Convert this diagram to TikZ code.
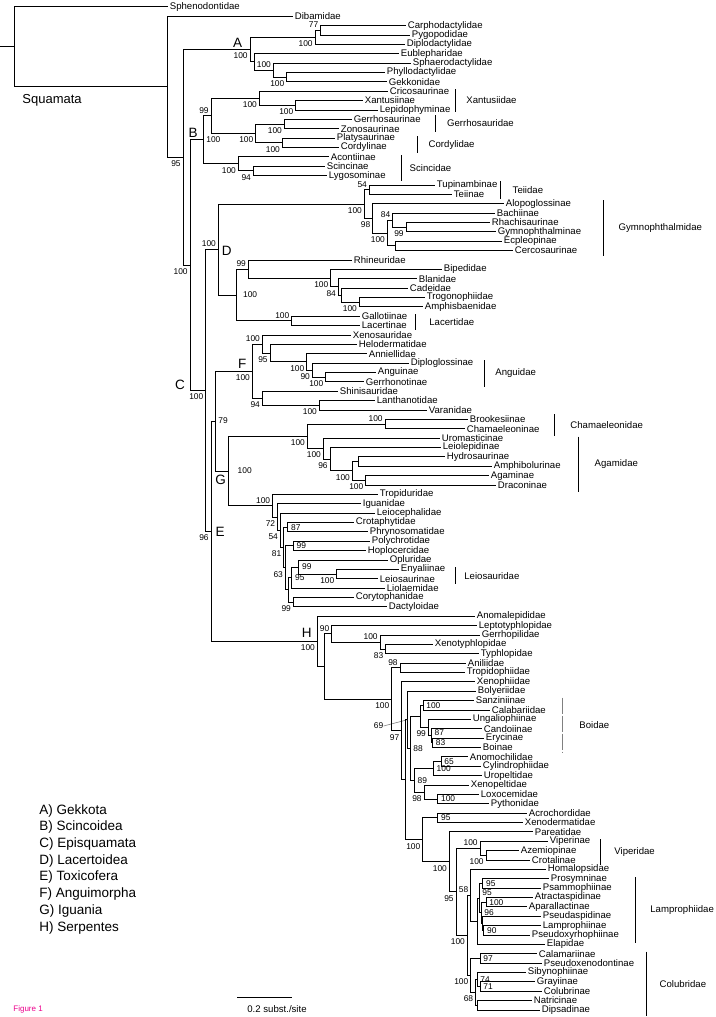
\documentclass[tikz,border=0pt]{standalone}
\usepackage{fontspec}
\setmainfont{Liberation Sans}
\usetikzlibrary{calc}
\tikzset{
  leaf/.style={anchor=west, inner sep=0pt, xshift=1.5pt, font=\fontsize{9.6}{10}\selectfont},
  famlab/.style={anchor=west, inner sep=0pt, font=\fontsize{9.6}{10}\selectfont},
  bsbl/.style={anchor=north east, inner sep=0pt, xshift=-2pt, yshift=-3pt, font=\fontsize{8.4}{9}\selectfont},
  bsal/.style={anchor=south east, inner sep=0pt, xshift=-2pt, yshift=2pt, font=\fontsize{8.4}{9}\selectfont},
  bsr/.style={anchor=west, inner sep=0pt, xshift=3pt, font=\fontsize{8.4}{9}\selectfont},
  bsfree/.style={inner sep=0pt, font=\fontsize{8.4}{9}\selectfont},
  cladelab/.style={inner sep=0pt, font=\fontsize{13.5}{14}\selectfont},
}
\newcommand{\clade}[4]{%
  \coordinate (#1-m) at ($(#3)!.5!(#4)$);
  \coordinate (#1) at (#2,0 |- #1-m);
  \draw (#1) |- (#3);
  \draw (#1) |- (#4);}
\newcommand{\bs}[3]{\node[#1] (#2-bs) at (#2) {#3};}
\newcommand{\famline}[5]{%
  \coordinate (#5-t) at (#1,#2);
  \coordinate (#5-b) at (#1,#3);
  \draw (#5-t) -- (#5-b);
  \node[famlab] (#5) at (#4,{(#2+#3)/2}) {#5};}

\begin{document}
\begin{tikzpicture}[x=1pt, y=-1pt, line width=0.8pt]
\useasboundingbox (0,0) rectangle (715,1017);

\foreach \nm/\xe [count=\i] in {Sphenodontidae/168, Dibamidae/293, Carphodactylidae/406, Pygopodidae/410,
  Diplodactylidae/405, Eublepharidae/399, Sphaerodactylidae/411, Phyllodactylidae/385, Gekkonidae/387,
  Cricosaurinae/388, Xantusiinae/363, Lepidophyminae/378, Gerrhosaurinae/352, Zonosaurinae/339,
  Platysaurinae/335, Cordylinae/339, Acontiinae/329, Scincinae/325, Lygosominae/327,
  Tupinambinae/435, Teiinae/452, Alopoglossinae/504, Bachiinae/495, Rhachisaurinae/490,
  Gymnophthalminae/496, Ecpleopinae/502, Cercosaurinae/513, Rhineuridae/352, Bipedidae/442,
  Blanidae/417, Cadeidae/408, Trogonophiidae/425, Amphisbaenidae/423, Gallotiinae/360, Lacertinae/360,
  Xenosauridae/351, Helodermatidae/357, Anniellidae/367, Diploglossinae/409, Anguinae/376,
  Gerrhonotinae/364, Shinisauridae/338, Lanthanotidae/375, Varanidae/427, Brookesiinae/468,
  Chamaeleoninae/465, Uromasticinae/440, Leiolepidinae/441, Hydrosaurinae/445, Amphibolurinae/492,
  Agaminae/489, Draconinae/496, Tropiduridae/378, Iguanidae/361, Leiocephalidae/375,
  Crotaphytidae/354, Phrynosomatidae/368, Polychrotidae/370, Hoplocercidae/366, Opluridae/388,
  Enyaliinae/399, Leiosaurinae/378, Liolaemidae/385, Corytophanidae/354, Dactyloidae/387,
  Anomalepididae/475, Leptotyphlopidae/477, Gerrhopilidae/480, Xenotyphlopidae/433, Typhlopidae/479,
  Aniliidae/466, Tropidophiidae/465, Xenophiidae/475, Bolyeriidae/476, Sanziniinae/474,
  Calabariidae/490, Ungaliophiinae/471, Candoiinae/482, Erycinae/484, Boinae/481,
  Anomochilidae/468, Cylindrophiidae/481, Uropeltidae/482, Xenopeltidae/469, Loxocemidae/479,
  Pythonidae/489, Acrochordidae/527, Xenodermatidae/523, Pareatidae/533, Viperinae/548,
  Azemiopinae/519, Crotalinae/530, Homalopsidae/546, Prosymninae/549, Psammophiinae/541,
  Atractaspidinae/533, Aparallactinae/527, Pseudaspidinae/541, Lamprophiinae/541,
  Pseudoxyrhophiinae/530, Elapidae/545, Calamariinae/537, Pseudoxenodontinae/542,
  Sibynophiinae/526, Grayiinae/535, Colubrinae/542, Natricinae/532, Dipsadinae/540}{
  \coordinate (\nm) at (\xe,{6.8+(\i-1)*9.375});
  \node[leaf] (\nm-l) at (\nm) {\nm};
}

\clade{nCarPyg}{320.7}{Carphodactylidae}{Pygopodidae}
\clade{nPygopodoidea}{315}{nCarPyg}{Diplodactylidae}
\clade{nPhyGek}{286.7}{Phyllodactylidae}{Gekkonidae}
\clade{nGekkonoidea}{273.3}{Sphaerodactylidae}{nPhyGek}
\clade{nEubGek}{254.3}{Eublepharidae}{nGekkonoidea}
\clade{Gekkota}{250}{nPygopodoidea}{nEubGek}
\bs{bsal}{nCarPyg}{77}
\bs{bsbl}{nPygopodoidea}{100}
\bs{bsbl}{nPhyGek}{100}
\bs{bsal}{nGekkonoidea}{100}
\bs{bsbl}{Gekkota}{100}

\clade{nXanLep}{295.7}{Xantusiinae}{Lepidophyminae}
\clade{nXantusiidae}{259.3}{Cricosaurinae}{nXanLep}
\clade{nGerrho}{284.3}{Gerrhosaurinae}{Zonosaurinae}
\clade{nCordyl}{282.3}{Platysaurinae}{Cordylinae}
\clade{nCordyliformes}{255.7}{nGerrho}{nCordyl}
\clade{nB99}{211}{nXantusiidae}{nCordyliformes}
\clade{nScnLyg}{253.3}{Scincinae}{Lygosominae}
\clade{nScincidae}{238.3}{Acontiinae}{nScnLyg}
\clade{Scincoidea}{203}{nB99}{nScincidae}
\bs{bsbl}{nXanLep}{100}
\bs{bsbl}{nXantusiidae}{100}
\bs{bsbl}{nGerrho}{100}
\bs{bsbl}{nCordyl}{100}
\bs{bsbl}{nCordyliformes}{100}
\bs{bsal}{nB99}{99}
\bs{bsbl}{nScnLyg}{94}
\bs{bsbl}{nScincidae}{100}
\bs{bsr}{Scincoidea}{100}

\clade{nTeiidae}{369.3}{Tupinambinae}{Teiinae}
\clade{nRhaGym}{406}{Rhachisaurinae}{Gymnophthalminae}
\clade{nBacRG}{392.7}{Bachiinae}{nRhaGym}
\clade{nEcpCer}{395}{Ecpleopinae}{Cercosaurinae}
\clade{nCerco}{387.3}{nBacRG}{nEcpCer}
\clade{nGymno}{372.7}{Alopoglossinae}{nCerco}
\clade{nTeiioidea}{364.3}{nTeiidae}{nGymno}
\bs{bsal}{nTeiidae}{54}
\bs{bsbl}{nRhaGym}{99}
\bs{bsal}{nBacRG}{84}
\bs{bsbl}{nCerco}{100}
\bs{bsbl}{nGymno}{98}
\bs{bsbl}{nTeiioidea}{100}

\clade{nTroAmp}{359.3}{Trogonophiidae}{Amphisbaenidae}
\clade{nCadTA}{341}{Cadeidae}{nTroAmp}
\clade{nBlaCT}{338.3}{Blanidae}{nCadTA}
\clade{nAmphisb}{330.7}{Bipedidae}{nBlaCT}
\clade{nRhiAmp}{248.3}{Rhineuridae}{nAmphisb}
\clade{nLacertidae}{291.7}{Gallotiinae}{Lacertinae}
\clade{nLacertibaenia}{236.7}{nRhiAmp}{nLacertidae}
\clade{Lacertoidea}{218.3}{nTeiioidea}{nLacertibaenia}
\bs{bsbl}{nTroAmp}{100}
\bs{bsbl}{nBlaCT}{84}
\bs{bsbl}{nAmphisb}{100}
\bs{bsal}{nRhiAmp}{99}
\bs{bsal}{nLacertidae}{100}
\node[bsr, xshift=3pt] (nLacertibaenia-bs) at (nLacertibaenia) {100};
\bs{bsal}{Lacertoidea}{100}

\clade{nAnguGer}{325.7}{Anguinae}{Gerrhonotinae}
\clade{nAnguidae}{312.3}{Diploglossinae}{nAnguGer}
\clade{nAnnAng}{306.7}{Anniellidae}{nAnguidae}
\clade{nHelAA}{270}{Helodermatidae}{nAnnAng}
\clade{nXenHel}{262.3}{Xenosauridae}{nHelAA}
\clade{nVaranoidea}{319.3}{Lanthanotidae}{Varanidae}
\clade{nShiVar}{262.3}{Shinisauridae}{nVaranoidea}
\clade{Anguimorpha}{252.3}{nXenHel}{nShiVar}
\bs{bsbl}{nAnguGer}{100}
\bs{bsbl}{nAnguidae}{90}
\bs{bsbl}{nAnnAng}{100}
\bs{bsbl}{nHelAA}{95}
\bs{bsal}{nXenHel}{100}
\bs{bsbl}{nVaranoidea}{100}
\bs{bsbl}{nShiVar}{94}
\bs{bsbl}{Anguimorpha}{100}

\clade{nChamaeleonidae}{385}{Brookesiinae}{Chamaeleoninae}
\clade{nHydAmp}{358.3}{Hydrosaurinae}{Amphibolurinae}
\clade{nAgaDra}{365.7}{Agaminae}{Draconinae}
\clade{nAgaCore}{352.3}{nHydAmp}{nAgaDra}
\clade{nLeiAga}{330}{Leiolepidinae}{nAgaCore}
\clade{nAgamidae}{323.3}{Uromasticinae}{nLeiAga}
\clade{nAcrodonta}{307.3}{nChamaeleonidae}{nAgamidae}
\bs{bsal}{nChamaeleonidae}{100}
\bs{bsbl}{nAgaDra}{100}
\bs{bsbl}{nAgaCore}{100}
\bs{bsbl}{nLeiAga}{96}
\bs{bsbl}{nAgamidae}{100}
\bs{bsbl}{nAcrodonta}{100}

\clade{nEnyLeio}{336.7}{Enyaliinae}{Leiosaurinae}
\clade{nOplLeio}{298.8}{Opluridae}{nEnyLeio}
\clade{nOLLio}{291.7}{nOplLeio}{Liolaemidae}
\clade{nCorDac}{293.3}{Corytophanidae}{Dactyloidae}
\clade{nP5}{288.3}{nOLLio}{nCorDac}
\clade{nPolHop}{293.3}{Polychrotidae}{Hoplocercidae}
\clade{nP4}{285.3}{nPolHop}{nP5}
\clade{nCroPhr}{287.7}{Crotaphytidae}{Phrynosomatidae}
\clade{nP3}{283.6}{nCroPhr}{nP4}
\clade{nP2}{280.3}{Leiocephalidae}{nP3}
\clade{nP1}{277.5}{Iguanidae}{nP2}
\clade{nPleurodonta}{272.5}{Tropiduridae}{nP1}
\clade{Iguania}{228.3}{nAcrodonta}{nPleurodonta}
\clade{nAngIgu}{215}{Anguimorpha}{Iguania}
\bs{bsbl}{nEnyLeio}{100}
\bs{bsr}{nOplLeio}{99}
\bs{bsr}{nOLLio}{95}
\bs{bsbl}{nCorDac}{99}
\bs{bsr}{nPolHop}{99}
\bs{bsbl}{nP4}{63}
\bs{bsr}{nCroPhr}{87}
\bs{bsbl}{nP3}{81}
\bs{bsbl}{nP2}{54}
\bs{bsbl}{nP1}{72}
\bs{bsal}{nPleurodonta}{100}
\node[bsr, xshift=6pt] (Iguania-bs) at (Iguania) {100};
\bs{bsr}{nAngIgu}{79}

\clade{nXenTyp}{385.7}{Xenotyphlopidae}{Typhlopidae}
\clade{nTyphlopoidea}{380}{Gerrhopilidae}{nXenTyp}
\clade{nLepTyp}{331.7}{Leptotyphlopidae}{nTyphlopoidea}
\clade{nAmerophidia}{400}{Aniliidae}{Tropidophiidae}
\clade{nSanCal}{423}{Sanziniinae}{Calabariidae}
\clade{nEryBoi}{432.5}{Erycinae}{Boinae}
\clade{nCanEB}{431.3}{Candoiinae}{nEryBoi}
\clade{nUngCEB}{428.3}{Ungaliophiinae}{nCanEB}
\clade{nBoidae}{420}{nSanCal}{nUngCEB}
\clade{nAnoCyl}{441}{Anomochilidae}{Cylindrophiidae}
\clade{nUropeltoidea}{433.3}{nAnoCyl}{Uropeltidae}
\clade{nLoxPyt}{437.7}{Loxocemidae}{Pythonidae}
\clade{nPythonoidea}{424}{Xenopeltidae}{nLoxPyt}
\clade{nUroPyt}{414.3}{nUropeltoidea}{nPythonoidea}
\clade{nBooUP}{410}{nBoidae}{nUroPyt}
\clade{nBolBoo}{407.3}{Bolyeriidae}{nBooUP}
\bs{bsbl}{nXenTyp}{83}
\bs{bsal}{nTyphlopoidea}{100}
\bs{bsal}{nLepTyp}{90}
\bs{bsal}{nAmerophidia}{98}
\bs{bsr}{nSanCal}{100}
\bs{bsr}{nEryBoi}{83}
\node[bsr, yshift=3pt] (nCanEB-bs) at (nCanEB) {87};
\bs{bsbl}{nUngCEB}{99}
\bs{bsr}{nAnoCyl}{65}
\bs{bsr}{nUropeltoidea}{100}
\bs{bsr}{nLoxPyt}{100}
\bs{bsbl}{nPythonoidea}{98}
\bs{bsr}{nUroPyt}{89}
\bs{bsr}{nBooUP}{88}
\node[bsfree] (nBolBoo-bs) at (378.5,726) {69};
\draw[gray, line width=0.6pt] (nBolBoo-bs.east) -- (nBolBoo);

\clade{nAcrXen}{437.7}{Acrochordidae}{Xenodermatidae}
\clade{nAziCro}{486}{Azemiopinae}{Crotalinae}
\clade{nViperidae}{480}{Viperinae}{nAziCro}
\clade{nProPsa}{482.7}{Prosymninae}{Psammophiinae}
\clade{nAtrApa}{486}{Atractaspidinae}{Aparallactinae}
\clade{nLamPse}{483.7}{Lamprophiinae}{Pseudoxyrhophiinae}
\clade{nPsaLP}{482}{Pseudaspidinae}{nLamPse}
\clade{nL96}{481}{nAtrApa}{nPsaLP}
\clade{nLamprophiidae}{479}{nProPsa}{nL96}
\clade{nLamEla}{477.3}{nLamprophiidae}{Elapidae}
\clade{nHomLE}{470.7}{Homalopsidae}{nLamEla}
\clade{nCalPse}{480}{Calamariinae}{Pseudoxenodontinae}
\clade{nGraCol}{480}{Grayiinae}{Colubrinae}
\clade{nSibGC}{477}{Sibynophiinae}{nGraCol}
\clade{nNatDip}{477.5}{Natricinae}{Dipsadinae}
\clade{nSGCND}{475.5}{nSibGC}{nNatDip}
\clade{nColubridae}{470.7}{nCalPse}{nSGCND}
\clade{nCol100}{467.3}{nHomLE}{nColubridae}
\clade{nCol95}{456}{nViperidae}{nCol100}
\clade{nColubroides}{449.3}{Pareatidae}{nCol95}
\clade{nCaenophidia}{422.7}{nAcrXen}{nColubroides}
\clade{nAfro2}{405}{nBolBoo}{nCaenophidia}
\clade{nAfrophidia}{401.7}{Xenophiidae}{nAfro2}
\clade{nAlethinophidia}{391.7}{nAmerophidia}{nAfrophidia}
\clade{nSerp2}{324.3}{nLepTyp}{nAlethinophidia}
\clade{Serpentes}{317.3}{Anomalepididae}{nSerp2}
\bs{bsr}{nAcrXen}{95}
\bs{bsbl}{nAziCro}{100}
\bs{bsal}{nViperidae}{100}
\bs{bsr}{nProPsa}{95}
\bs{bsr}{nAtrApa}{100}
\bs{bsr}{nLamPse}{90}
\bs{bsr}{nL96}{96}
\node[bsr, yshift=5pt] (nLamprophiidae-bs) at (nLamprophiidae) {95};
\bs{bsal}{nHomLE}{58}
\bs{bsr}{nCalPse}{97}
\bs{bsr}{nGraCol}{71}
\bs{bsr}{nSibGC}{74}
\bs{bsbl}{nSGCND}{68}
\bs{bsbl}{nColubridae}{100}
\bs{bsbl}{nCol100}{100}
\bs{bsbl}{nCol95}{95}
\bs{bsbl}{nColubroides}{100}
\bs{bsbl}{nCaenophidia}{100}
\bs{bsbl}{nAfrophidia}{97}
\bs{bsbl}{nAlethinophidia}{100}
\bs{bsbl}{Serpentes}{100}

\clade{Toxicofera}{211}{nAngIgu}{Serpentes}
\clade{Episquamata}{205.7}{Lacertoidea}{Toxicofera}
\clade{Unidentata}{190}{Scincoidea}{Episquamata}
\clade{nSq95}{183}{Gekkota}{Unidentata}
\clade{Squamata}{167}{Dibamidae}{nSq95}
\clade{root}{14}{Sphenodontidae}{Squamata}
\coordinate (rootstem) at (0,0 |- root);
\draw (rootstem) -- (root);
\bs{bsbl}{Toxicofera}{96}
\bs{bsbl}{Episquamata}{100}
\bs{bsbl}{Unidentata}{100}
\bs{bsbl}{nSq95}{95}

\node[cladelab] (labA) at (237.7,43) {A};
\node[cladelab] (labB) at (193,132.5) {B};
\node[cladelab] (labC) at (180,385) {C};
\node[cladelab] (labD) at (226.7,251) {D};
\node[cladelab] (labE) at (220,531.7) {E};
\node[cladelab] (labF) at (242.3,364) {F};
\node[cladelab] (labG) at (220.7,480) {G};
\node[cladelab] (labH) at (306.7,633.3) {H};
\node[cladelab, anchor=west, font=\fontsize{13}{14}\selectfont] (labSq) at (22,100.6) {Squamata};

\famline{455.7}{89}{111.7}{466}{Xantusiidae}
\famline{435}{115}{132}{446.7}{Gerrhosauridae}
\famline{417.7}{136}{153.3}{428.3}{Cordylidae}
\famline{401}{155}{180.7}{409.3}{Scincidae}
\famline{500.7}{181}{198.7}{512.3}{Teiidae}
\famline{603.3}{200}{256}{618.3}{Gymnophthalmidae}
\famline{415.7}{314.3}{330}{429}{Lacertidae}
\famline{484}{360}{386.7}{495}{Anguidae}
\famline{554.3}{414}{435.7}{570}{Chamaeleonidae}
\famline{578.3}{436.7}{491.7}{594.3}{Agamidae}
\famline{455.7}{567.3}{584}{464}{Leiosauridae}
\famline{600}{839.3}{865}{614}{Viperidae}
\famline{635.7}{877.3}{943.3}{650}{Lamprophiidae}
\famline{646.7}{951.7}{1015.7}{659.3}{Colubridae}
\coordinate (Boidae-t) at (562.3,697.7);
\coordinate (Boidae-b) at (562.3,752.7);
\draw[gray, line width=0.6pt, dash pattern=on 16pt off 2pt] (Boidae-t) -- (Boidae-b);
\node[famlab] (Boidae) at (579,725) {Boidae};

\foreach \txt [count=\j] in {A) Gekkota, B) Scincoidea, C) Episquamata, D) Lacertoidea,
  E) Toxicofera, F) Anguimorpha, G) Iguania, H) Serpentes}{
  \node[cladelab, anchor=west] (leg\j) at (39,{810.6+(\j-1)*16.7}) {\txt};
}

\coordinate (scaleL) at (237,997);
\coordinate (scaleR) at (292,997);
\draw (scaleL) -- (scaleR);
\node[famlab, anchor=center] (scalelab) at (277,1009) {0.2 subst./site};
\node[anchor=west, inner sep=0pt, text=magenta, font=\fontsize{8}{9}\selectfont] (fig) at (13,1009) {Figure 1};
\end{tikzpicture}
\end{document}
